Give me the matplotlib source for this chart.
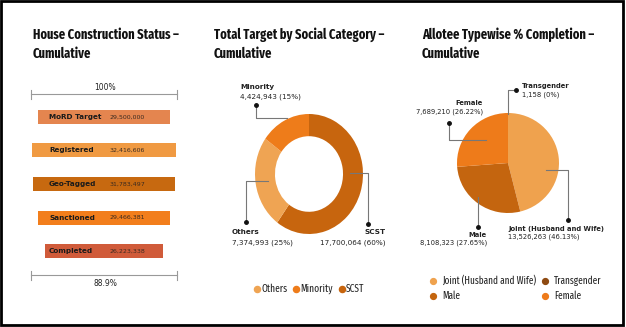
import matplotlib.pyplot as plt
from matplotlib.lines import Line2D
from matplotlib.patches import Rectangle

W, H = 626, 327

# house construction status
status_names = ['MoRD Target', 'Registered', 'Geo-Tagged', 'Sanctioned', 'Completed']
status_values = [29500000, 32416606, 31783497, 29466381, 26223338]
status_colors = ['#E4854F', '#F09A42', '#C76910', '#F27E1C', '#D05B3A']
top_pct = '100%'
bottom_pct = '88.9%'

# social category target
social_names = ['SCST', 'Others', 'Minority']
social_values = [17700064, 7374993, 4424943]
social_pcts = ['60%', '25%', '15%']
social_colors = ['#C7650E', '#EFA453', '#EE7C1A']
legend_social = ['Others', 'Minority', 'SCST']

# allotee typewise
allotee_names = ['Joint (Husband and Wife)', 'Male', 'Female', 'Transgender']
allotee_values = [13526263, 8108323, 7689210, 1158]
allotee_pcts = ['46.13%', '27.65%', '26.22%', '0%']
allotee_colors = ['#EFA24E', '#C4650F', '#EE7B1A', '#8E4A12']

COND = ['Fira Sans Extra Condensed', 'Barlow Condensed', 'DejaVu Sans']
WIDE = ['DejaVu Sans']
TITLE = dict(family=COND, weight='bold', color='#111111')
LBL = dict(family=WIDE, color='#222222')
TSIZE = 9.7


def fx(x):
    return x / W


def fy(y):
    return 1 - y / H


def txt(x, y, s, size, **kw):
    fig.text(fx(x), fy(y), s, fontsize=size, **kw)


def poly(pts, dot=None, color='#777777'):
    xs = [fx(p[0]) for p in pts]
    ys = [fy(p[1]) for p in pts]
    fig.add_artist(Line2D(xs, ys, color=color, lw=0.8))
    if dot is not None:
        fig.add_artist(Line2D([fx(dot[0])], [fy(dot[1])], marker='o', ms=2.5,
                              color='#111111', lw=0))


def axes_px(x0, y0, x1, y1):
    return fig.add_axes([fx(x0), fy(y1), (x1 - x0) / W, (y1 - y0) / H])


fig = plt.figure(figsize=(W / 100, H / 100), dpi=100)
fig.patch.set_facecolor('white')

# frame
fig.add_artist(Rectangle((0.002, 0.006), 0.994, 0.991, transform=fig.transFigure,
                         fill=False, ec='black', lw=2))

# ---------------- panel 1 ----------------
txt(33, 39, 'House Construction Status \u2013', TSIZE, **TITLE)
txt(33, 58, 'Cumulative', TSIZE, **TITLE)

txt(105, 87, top_pct, 5.5, ha='center', va='center', **LBL)
poly([(31, 94), (177, 94)], color='#999999')
poly([(31, 90), (31, 99)], color='#999999')
poly([(177, 90), (177, 99)], color='#999999')

ax1 = axes_px(31, 100, 177, 268)
vals_m = [v / 1e6 for v in status_values]
ax1.barh(range(len(vals_m)), vals_m, left=[-v / 2 for v in vals_m], height=0.42,
         color=status_colors)
ax1.set_xlim(-16.35, 16.35)
ax1.set_ylim(len(vals_m) - 0.5, -0.5)
ax1.axis('off')
for i, (n, v) in enumerate(zip(status_names, status_values)):
    ax1.text(-12.3, i, n, fontsize=5.2, weight='bold', va='center', family=WIDE, color='#1a1a1a')
    ax1.text(1.2, i, f'{v:,}', fontsize=4.5, va='center', family=WIDE, color='#3a2a20')

poly([(31, 275), (177, 275)], color='#999999')
poly([(31, 271), (31, 280)], color='#999999')
poly([(177, 271), (177, 280)], color='#999999')
txt(105, 284, bottom_pct, 5.5, ha='center', va='center', **LBL)

# ---------------- panel 2 ----------------
txt(214, 39, 'Total Target by Social Category \u2013', TSIZE, **TITLE)
txt(214, 58, 'Cumulative', TSIZE, **TITLE)

ax2 = axes_px(255, 114, 363, 234)
ax2.pie(social_values, colors=social_colors, startangle=90, counterclock=False,
        radius=1.0, wedgeprops=dict(width=0.37, linewidth=0))
ax2.set_aspect('auto')
ax2.set_xlim(-1, 1)
ax2.set_ylim(-1, 1)

poly([(256, 105), (256, 118), (287, 118)], dot=(256, 105))
txt(240, 87, 'Minority', 5.2, weight='bold', va='center', **LBL)
txt(240, 97, f'{social_values[2]:,} ({social_pcts[2]})', 5.2, va='center', **LBL)

poly([(246, 222), (246, 181), (268, 181)], dot=(246, 222))
txt(232, 232, 'Others', 5.2, weight='bold', va='center', **LBL)
txt(232, 243, f'{social_values[1]:,} ({social_pcts[1]})', 5.2, va='center', **LBL)

poly([(368, 224), (368, 173), (350, 173)], dot=(368, 224))
txt(386, 232, 'SCST', 5.2, weight='bold', va='center', ha='right', **LBL)
txt(386, 243, f'{social_values[0]:,} ({social_pcts[0]})', 5.2, va='center', ha='right', **LBL)

lx = [257, 296, 342]
for x, n in zip(lx, legend_social):
    c = social_colors[social_names.index(n)]
    fig.add_artist(Line2D([fx(x)], [fy(289)], marker='o', ms=4.4, color=c, lw=0))
    txt(x + 4, 289, n, 7.4, va='center', family=COND, color='#222222')

# ---------------- panel 3 ----------------
txt(422, 39, 'Allotee Typewise % Completion \u2013', TSIZE, **TITLE)
txt(422, 58, 'Cumulative', TSIZE, **TITLE)

ax3 = axes_px(457, 113, 559, 213)
ax3.pie(allotee_values, colors=allotee_colors, startangle=90, counterclock=False,
        radius=1.0, wedgeprops=dict(linewidth=0))
ax3.set_aspect('auto')
ax3.set_xlim(-1, 1)
ax3.set_ylim(-1, 1)

PS = 4.9
poly([(508, 114), (508, 90), (516, 90)], dot=(516, 90))
txt(522, 86, 'Transgender', PS, weight='bold', va='center', **LBL)
txt(522, 95, f'{allotee_values[3]:,} ({allotee_pcts[3]})', PS, va='center', **LBL)

poly([(449, 123), (449, 140), (486, 140)], dot=(449, 123))
txt(483, 103, 'Female', PS, weight='bold', va='center', ha='right', **LBL)
txt(483, 112, f'{allotee_values[2]:,} ({allotee_pcts[2]})', PS, va='center', ha='right', **LBL)

poly([(546, 170), (568, 170), (568, 220)], dot=(568, 220))
txt(508, 229, allotee_names[0], PS, weight='bold', va='center', **LBL)
txt(508, 237, f'{allotee_values[0]:,} ({allotee_pcts[0]})', PS, va='center', **LBL)

poly([(478, 197), (478, 227)], dot=(478, 227))
txt(487, 235, 'Male', PS, weight='bold', va='center', ha='right', **LBL)
txt(487, 243, f'{allotee_values[1]:,} ({allotee_pcts[1]})', PS, va='center', ha='right', **LBL)

leg_pos = {'Joint (Husband and Wife)': (433, 281), 'Transgender': (545, 281),
           'Male': (433, 296), 'Female': (545, 296)}
for n, c in zip(allotee_names, allotee_colors):
    x, y = leg_pos[n]
    fig.add_artist(Line2D([fx(x)], [fy(y)], marker='o', ms=4.2, color=c, lw=0))
    txt(x + 9, y, n, 7.2, va='center', family=COND, color='#222222')

fig.savefig('out.png', dpi=100, facecolor='white')
